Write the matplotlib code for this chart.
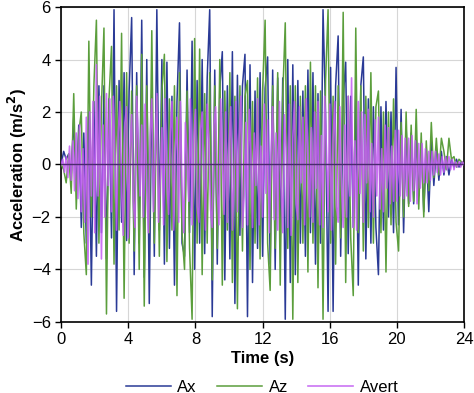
import numpy as np
import matplotlib
matplotlib.use("Agg")
import matplotlib.pyplot as plt

plt.rcParams['font.family'] = ['Liberation Sans', 'DejaVu Sans']

ax_vals = [
    0.0, 0.5, 0.2, 0.4, -0.4, 1.8, -0.9, 1.5, -2.4, 1.2,
    -3.0, 2.0, -4.6, 2.4, -3.5, 3.0, -2.6, 3.0, -3.6, 2.5,
    -2.8, 5.9, -5.6, 3.2, -2.2, 3.5, -2.9, 2.8, 5.6, -4.2,
    3.5, -3.0, 5.5, -4.3, 4.0, -5.3, 3.0, -3.5, 5.9, -2.5,
    4.0, -3.8, 3.9, -3.2, 2.6, -4.6, 2.4, 5.4, -3.0, -3.5,
    3.6, -2.6, 4.7, -4.0, 3.2, -3.0, 4.0, -3.4, 3.3, 5.9,
    -5.8, 3.6, -3.8, 2.9, 4.3, -4.4, 3.0, -3.6, 4.3, -5.3,
    3.4, -2.7, 3.0, 4.2, -5.8, 3.8, -4.5, 2.8, -3.2, 3.5,
    -3.5, 2.9, 4.1, -3.8, 3.6, -4.0, 3.3, -2.9, 3.3, -5.9,
    4.0, -4.5, 3.8, -4.2, 3.2, -3.0, 2.8, -3.5, 3.6, -2.6,
    3.5, -3.8, 2.7, -3.0, 5.9, 2.0, -5.6, 3.7, -5.6, 3.0,
    4.9, -3.5, 2.5, 3.9, -3.4, 2.6, -2.4, 2.8, -4.6, 3.0,
    4.1, -3.6, 2.5, -3.0, 2.2, -2.4, -4.2, 2.2, -2.5, 2.4,
    -2.0, 2.0, -2.6, 3.7, -2.3, 2.1, -2.6, 1.4, -1.5, 1.2,
    -1.5, 1.0, -1.2, 0.8, -1.8, 0.6, -1.8, 0.9, -0.8, 0.6,
    -0.6, 0.5, -0.4, 0.3, -0.4, 0.2, -0.1, 0.2, -0.1, 0.1,
    0.0,
]

# Az, sampled every 0.15 s
az_vals = [
    0.0, -0.2, -0.7, 0.4, -1.1, 2.7, -1.7, 1.2, 2.0, -2.6,
    -4.2, 4.7, -2.0, 3.0, 5.5, -3.0, 2.2, 5.2, -5.7, 2.5,
    4.5, -3.8, 3.0, -2.5, 5.0, -5.1, 3.5, -3.0, 2.8, -3.3,
    3.0, -4.0, 4.2, -5.4, 3.0, -2.6, 5.1, -3.0, 2.6, -3.5,
    2.8, 4.2, -3.7, 2.5, -2.5, 3.0, -5.0, 3.5, -2.6, -4.0,
    2.8, -3.2, -5.9, 4.8, -3.0, 4.4, -4.2, 2.7, -3.0, 3.5,
    -4.4, 3.0, -3.2, 4.0, -4.6, 2.8, -2.5, 3.5, -4.5, 2.6,
    -5.5, 3.0, -3.3, 2.6, 3.2, -4.0, 2.4, -3.0, 3.3, -3.6,
    2.8, 5.5, -3.0, -4.8, 3.0, -3.2, 3.5, -4.6, 2.6, 5.4,
    -3.2, 3.0, -5.9, 3.0, -4.5, 2.6, -3.0, 3.0, -4.1, 3.9,
    -3.0, 3.0, -4.7, 2.8, -5.9, 3.2, 5.9, -3.0, 2.6, -3.8,
    3.0, -2.8, 5.8, -4.5, 2.6, -2.8, -5.0, 5.2, -2.6, 3.0,
    -3.3, 2.6, -2.4, 3.5, -3.0, 2.2, 2.8, -2.6, 2.0, -4.1,
    2.0, -2.3, 2.5, -2.2, -3.3, 1.6, -2.0, 2.0, -1.6, 1.5,
    -1.4, 2.1, -1.7, 1.2, -2.0, 0.9, -1.0, 1.6, -0.5, 1.0,
    -0.4, 1.0, 0.5, -0.2, 1.0, 0.2, 0.3, -0.1, 0.2, 0.1,
    0.0,
]

# Avert, sampled every 0.1 s
avert_vals = [
    0.0, 0.2, -0.3, 0.3, -0.5, 0.7, -0.6, 0.9, -1.0, 1.2,
    -1.3, 1.5, -1.8, 0.6, -2.2, 1.8, -3.8, 2.0, -1.2, 2.4,
    -2.6, 3.8, -1.2, 2.6, -3.6, 1.5, -2.0, 2.7, -0.8, 2.5,
    -1.8, 2.6, 0.4, -2.5, 1.2, 2.4, -1.0, -2.7, 1.6, 2.2,
    -2.8, 0.6, 1.9, -1.4, -2.4, 2.6, 0.8, -1.2, 1.5, -2.0,
    2.3, -0.9, -2.6, 1.1, 2.5, -1.8, 0.3, 2.7, -2.2, -0.6,
    1.4, -2.3, 2.5, -0.7, -1.9, 1.2, 2.4, -2.5, 0.5, 1.8,
    -2.2, 2.4, -0.9, -2.6, 1.6, 0.2, -1.4, 2.5, -2.3, 1.0,
    2.1, -1.6, -2.2, 1.3, 2.0, -0.5, -2.5, 2.3, 0.9, -1.7,
    -2.4, 1.5, 2.2, -1.0, -2.3, 2.5, 0.4, -1.9, 2.0, -2.2,
    0.8, 2.2, -2.5, -0.6, 2.4, -1.8, 1.0, 2.6, -2.4, -1.2,
    1.6, -2.3, 2.1, 0.5, -2.4, 1.2, -0.8, 2.5, -2.3, 0.7,
    -2.0, 2.3, -1.1, 1.7, -2.6, 0.4, 2.2, -2.1, 1.2, -2.5,
    2.4, -0.8, -2.6, 1.9, 0.6, -2.4, 2.3, -2.7, 1.0, 2.4,
    -1.5, -2.1, 2.2, -0.7, 1.8, -2.3, 2.5, 0.3, -2.0, 1.4,
    -2.2, 2.0, -0.9, 2.4, -2.3, 1.1, -2.4, 2.6, 0.6, -1.8,
    2.3, -2.5, 1.0, 2.4, -1.6, -2.2, 2.2, -0.8, -2.4, 1.5,
    -2.0, 2.6, -1.2, 3.3, -2.4, 0.9, -2.5, 2.4, -1.1, 2.0,
    -2.2, 1.9, -0.7, 2.1, -1.8, 0.8, -2.0, 1.7, -1.2, 1.8,
    -1.7, 0.6, -1.8, 1.5, -0.9, 1.4, -1.5, 0.7, -1.4, 1.3,
    -1.4, 1.3, -1.2, 1.1, -1.3, 1.0, -1.2, 1.0, -1.4, 1.1,
    -1.0, 0.9, -1.5, 0.8, -0.9, 0.8, -0.7, 0.6, -0.7, 0.5,
    -0.6, 0.5, -0.4, 0.5, -0.3, 0.4, -0.4, 0.3, -0.3, 0.3,
    -0.2, 0.3, -0.2, 0.2, -0.2, 0.1, -0.1, 0.1, -0.1, 0.1,
    0.0,
]

t_ax = np.linspace(0, 24, len(ax_vals))
t_az = np.linspace(0, 24, len(az_vals))
t_avert = np.linspace(0, 24, len(avert_vals))

fig = plt.figure(figsize=(4.74, 3.93), dpi=100)
ax = fig.add_axes([0.129, 0.181, 0.850, 0.801])

ax.plot(t_ax, ax_vals, color='#2a3a96', lw=1.1, label='Ax', zorder=3)
ax.plot(t_az, az_vals, color='#5b9e3c', lw=1.1, label='Az', zorder=3)
ax.plot(t_avert, avert_vals, color='#c25cf2', lw=1.2, alpha=0.85, label='Avert', zorder=4)
ax.axhline(0, color='#4b2a70', lw=1.0, zorder=5)

ax.set_xlim(0, 24)
ax.set_ylim(-6, 6)
ax.set_xticks(range(0, 25, 4))
ax.set_yticks(range(-6, 7, 2))
ax.grid(True, color='#d6d6d6', lw=0.8, zorder=0)
ax.set_axisbelow(True)
ax.tick_params(labelsize=12, length=4, width=1, color='black')
for s in ax.spines.values():
    s.set_linewidth(1.2)

ax.set_xlabel('Time (s)', fontsize=12, fontweight='bold', labelpad=3)
ax.set_ylabel('Acceleration (m/s$^\\mathbf{2}$)', fontsize=12, fontweight='bold', labelpad=2)

fig.legend(loc='center', bbox_to_anchor=(262 / 474, 1 - 387 / 393), ncol=3,
           frameon=False, fontsize=12, handlelength=2.7, columnspacing=1.2,
           handletextpad=0.4)

fig.savefig('out.png', dpi=100)
